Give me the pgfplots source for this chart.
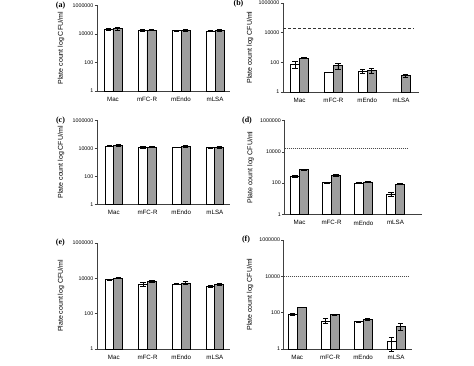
\documentclass[border=0pt]{standalone}
\usepackage{pgfplots}
\pgfplotsset{compat=1.18}
\usepackage{fontspec}
\setmainfont{Liberation Sans}
\newfontfamily\serifb{Liberation Serif}
\definecolor{bargray}{RGB}{158,158,158}
\pgfplotsset{
  myaxis/.style={
    scale only axis,
    ymin=1, ymax=1000000,
    ytick={1,100,10000,1000000},
    yticklabels={1,100,10000,1000000},
    yminorticks=false,
    axis x line*=bottom, axis y line*=left,
    axis line style={-, black!75, line width=0.5pt},
    xtick={0,1,2,3}, xticklabels={Mac,mFC-R,mEndo,mLSA},
    x tick style={draw=none},
    y tick style={black!75, line width=0.5pt},
    major tick length=2.5pt,
    tick align=outside,
    yticklabel style={font=\fontsize{5.3}{6}\selectfont, inner xsep=1pt},
    xticklabel style={font=\fontsize{6.2}{7}\selectfont},
    clip=false,
  },
  errs/.style={
    error bars/y dir=both, error bars/y explicit,
    error bars/error bar style={black, line width=0.7pt},
    error bars/error mark options={black, rotate=90, mark size=2.6pt, line width=1pt}},
  wbar/.style={ybar, bar width=9pt, bar shift=0pt, fill=white, draw=black, line width=0.7pt},
  gbar/.style={ybar, bar width=9pt, bar shift=0pt, fill=bargray, draw=black, line width=0.7pt},
}
\newcommand{\ylab}[2]{\node[rotate=90, font=\fontsize{7}{8}\selectfont] at (#1,#2) {Plate count log CFU/ml};}
\newcommand{\plab}[3]{\node[font=\serifb\bfseries\fontsize{8}{9}\selectfont] at (#1,#2) {(#3)};}
\begin{document}
\begin{tikzpicture}[x=1pt,y=1pt]
\path[use as bounding box] (0,0) rectangle (474,366);

% (a)
\begin{axis}[ymode=log, myaxis, at={(97pt,275pt)}, anchor=south west, width=133pt, height=85.5pt, xmin=-0.47, xmax=3.44]
\addplot[wbar, errs] coordinates {(-0.132,20000) +- (0,3000) (0.868,18000) +- (0,1800) (1.868,17500) +- (0,1500) (2.868,15500) +- (0,1500)};
\addplot[gbar, errs] coordinates {(0.132,23000) +- (0,4000) (1.132,18500) +- (0,2000) (2.132,18500) +- (0,2500) (3.132,18000) +- (0,2500)};
\end{axis}

% (b)
\begin{axis}[ymode=log, myaxis, at={(283pt,274pt)}, anchor=south west, width=136pt, height=89pt, xmin=-0.49, xmax=3.53]
\addplot[black!80, line width=0.9pt, dash pattern=on 3pt off 2pt, sharp plot] coordinates {(-0.49,20000) (3.39,20000)};
\addplot[wbar, errs] coordinates {(-0.133,73) +- (0,35) (1.867,25) +- (0,8)};
\addplot[wbar] coordinates {(0.867,21)};
\addplot[gbar, errs] coordinates {(0.133,190) +- (0,15) (1.133,62) +- (0,28) (2.133,28) +- (0,10) (3.133,12.7) +- (0,3.5)};
\end{axis}

% (c)
\begin{axis}[ymode=log, myaxis, at={(97pt,161.7pt)}, anchor=south west, width=133pt, height=83.8pt, xmin=-0.5, xmax=3.45]
\addplot[wbar, errs] coordinates {(-0.132,14500) +- (0,1500) (0.868,11700) +- (0,1200) (1.868,11700) +- (0,800) (2.868,11100) +- (0,1000)};
\addplot[gbar, errs] coordinates {(0.132,16200) +- (0,1500) (1.132,12400) +- (0,1000) (2.132,13100) +- (0,2000) (3.132,11700) +- (0,1200)};
\end{axis}

% (d)
\begin{axis}[ymode=log, myaxis, at={(284.5pt,151.5pt)}, anchor=south west, width=137.5pt, height=94pt, xmin=-0.47, xmax=3.83]
\addplot[black!70, line width=0.6pt, dash pattern=on 1pt off 1pt, sharp plot] coordinates {(-0.47,17800) (3.36,17800)};
\addplot[wbar, errs] coordinates {(-0.141,275) +- (0,50) (0.859,105) +- (0,10) (1.859,100) +- (0,5) (2.859,20) +- (0,6)};
\addplot[gbar, errs] coordinates {(0.141,710) +- (0,90) (1.141,316) +- (0,50) (2.141,120) +- (0,8) (3.141,87) +- (0,10)};
\end{axis}

% (e)
\begin{axis}[ymode=log, myaxis, at={(97pt,17pt)}, anchor=south west, width=133pt, height=106pt, xmin=-0.5, xmax=3.45]
\addplot[wbar, errs] coordinates {(-0.132,8500) +- (0,600) (0.868,4600) +- (0,1300) (1.868,4600) +- (0,400) (2.868,3600) +- (0,500)};
\addplot[gbar, errs] coordinates {(0.132,10000) +- (0,700) (1.132,6500) +- (0,600) (2.132,5500) +- (0,800) (3.132,4600) +- (0,700)};
\end{axis}

% (f)
\begin{axis}[ymode=log, myaxis, at={(283.7pt,17pt)}, anchor=south west, width=128.5pt, height=109pt, xmin=-0.41, xmax=3.49]
\addplot[black!70, line width=0.6pt, dash pattern=on 1pt off 1pt, sharp plot] coordinates {(-0.41,10000) (3.36,10000)};
\addplot[wbar, errs] coordinates {(-0.137,80) +- (0,6) (0.863,35) +- (0,10) (1.863,32) +- (0,2) (2.863,2.6) +- (0,1.9)};
\addplot[gbar] coordinates {(0.137,200)};
\addplot[gbar, errs] coordinates {(1.137,76) +- (0,4) (2.137,42) +- (0,6) (3.137,17.5) +- (0,7)};
\end{axis}

\ylab{61}{317.7}
\ylab{250}{318.5}
\ylab{61}{203.6}
\ylab{250.5}{198.5}
\ylab{61}{70}
\ylab{250}{71.5}
\plab{60.5}{360.5}{a}
\plab{238.5}{362.5}{b}
\plab{60.5}{245.5}{c}
\plab{247}{245.5}{d}
\plab{60.3}{123}{e}
\plab{246}{126}{f}
\end{tikzpicture}
\end{document}
